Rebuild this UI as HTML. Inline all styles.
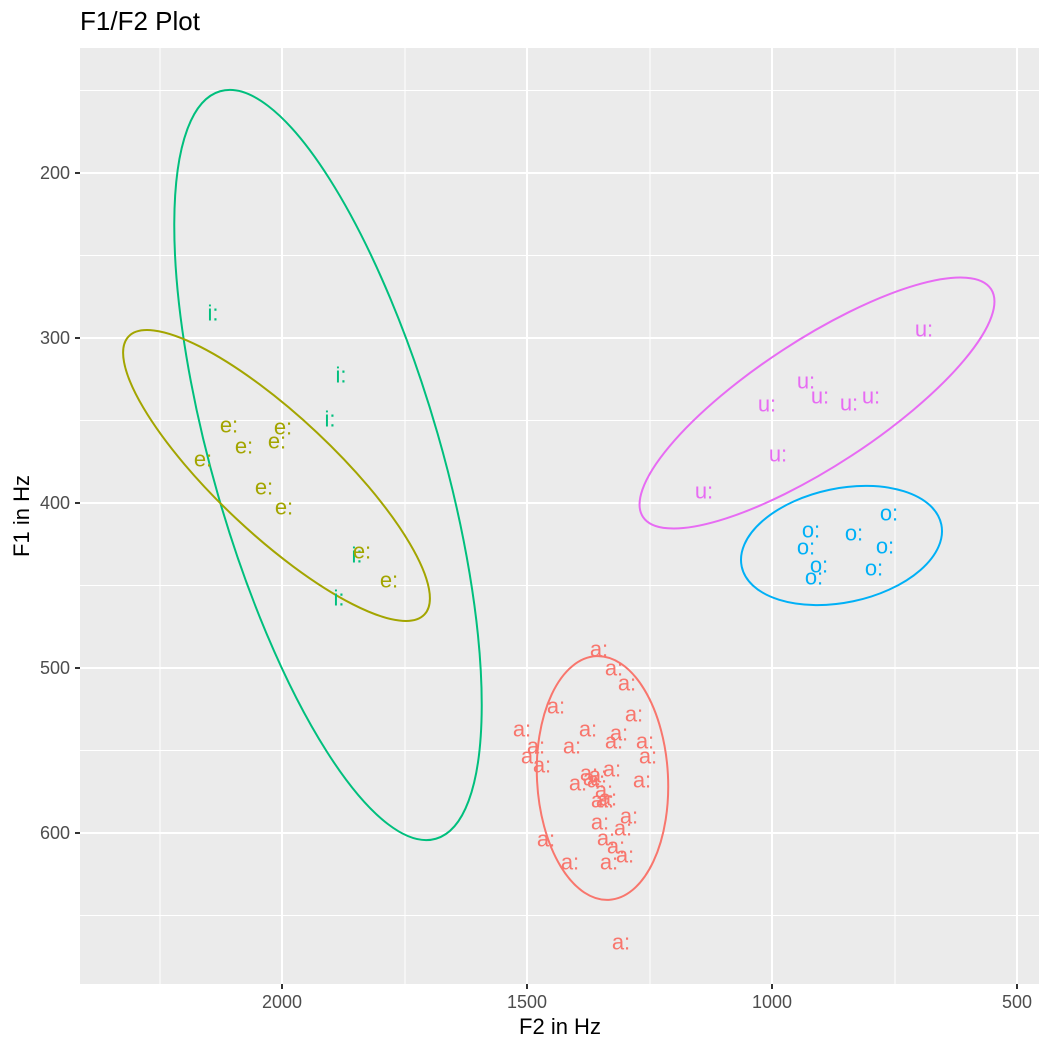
<!DOCTYPE html>
<html><head><meta charset="utf-8"><style>body{margin:0;background:#fff}svg{display:block}text{font-family:"Liberation Sans",sans-serif}</style></head><body>
<svg width="1050" height="1050" viewBox="0 0 1050 1050" xmlns="http://www.w3.org/2000/svg">
<rect x="80" y="48" width="959" height="936" fill="#EBEBEB"/>
<g stroke="#fff" stroke-width="1">
<line x1="160" y1="48" x2="160" y2="984"/><line x1="405" y1="48" x2="405" y2="984"/><line x1="650" y1="48" x2="650" y2="984"/><line x1="895" y1="48" x2="895" y2="984"/>
<line x1="80" y1="90.5" x2="1039" y2="90.5"/><line x1="80" y1="255.5" x2="1039" y2="255.5"/><line x1="80" y1="420.5" x2="1039" y2="420.5"/><line x1="80" y1="585.5" x2="1039" y2="585.5"/><line x1="80" y1="750.5" x2="1039" y2="750.5"/><line x1="80" y1="915.5" x2="1039" y2="915.5"/>
</g>
<g stroke="#fff" stroke-width="2">
<line x1="282" y1="48" x2="282" y2="984"/><line x1="527" y1="48" x2="527" y2="984"/><line x1="772" y1="48" x2="772" y2="984"/><line x1="1017" y1="48" x2="1017" y2="984"/>
<line x1="80" y1="173" x2="1039" y2="173"/><line x1="80" y1="338" x2="1039" y2="338"/><line x1="80" y1="503" x2="1039" y2="503"/><line x1="80" y1="668" x2="1039" y2="668"/><line x1="80" y1="833" x2="1039" y2="833"/>
</g>
<g stroke="#333" stroke-width="2">
<line x1="75" y1="173" x2="80" y2="173"/><line x1="75" y1="338" x2="80" y2="338"/><line x1="75" y1="503" x2="80" y2="503"/><line x1="75" y1="668" x2="80" y2="668"/><line x1="75" y1="833" x2="80" y2="833"/>
<line x1="282" y1="984" x2="282" y2="989"/><line x1="527" y1="984" x2="527" y2="989"/><line x1="772" y1="984" x2="772" y2="989"/><line x1="1017" y1="984" x2="1017" y2="989"/>
</g>
<g font-size="18" fill="#4D4D4D" text-anchor="end">
<text x="70" y="179">200</text><text x="70" y="344">300</text><text x="70" y="509">400</text><text x="70" y="674">500</text><text x="70" y="839">600</text>
</g>
<g font-size="18" fill="#4D4D4D" text-anchor="middle">
<text x="282" y="1008">2000</text><text x="527" y="1008">1500</text><text x="772" y="1008">1000</text><text x="1017" y="1008">500</text>
</g>
<text x="80" y="30" font-size="26" fill="#000">F1/F2 Plot</text>
<text x="560" y="1034" font-size="22" fill="#000" text-anchor="middle">F2 in Hz</text>
<text transform="translate(29,516) rotate(-90)" font-size="22" fill="#000" text-anchor="middle">F1 in Hz</text>
<g fill="none" stroke-width="2">
<ellipse cx="0" cy="0" rx="389" ry="114" stroke="#00BF7D" transform="translate(328,465) rotate(73.9)"/>
<ellipse cx="0" cy="0" rx="203" ry="59" stroke="#A3A500" transform="translate(276.5,475.5) rotate(43.2)"/>
<ellipse cx="0" cy="0" rx="208" ry="63" stroke="#E76BF3" transform="translate(817,403) rotate(-33.2)"/>
<ellipse cx="0" cy="0" rx="102" ry="57" stroke="#00B0F6" transform="translate(841.5,545.5) rotate(-11.9)"/>
<ellipse cx="0" cy="0" rx="65.5" ry="122" stroke="#F8766D" transform="translate(602.5,778) rotate(-3)"/>
</g>
<g font-size="22" text-anchor="middle" dominant-baseline="central">
<g fill="#00BF7D"><text x="213" y="313">i:</text><text x="341" y="375">i:</text><text x="330" y="419">i:</text><text x="357" y="555">i:</text><text x="339" y="598">i:</text></g>
<g fill="#A3A500"><text x="229" y="425">e:</text><text x="283" y="427">e:</text><text x="244" y="446">e:</text><text x="277" y="441">e:</text><text x="203" y="459">e:</text><text x="264" y="487">e:</text><text x="284" y="507">e:</text><text x="362" y="551">e:</text><text x="389" y="580">e:</text></g>
<g fill="#E76BF3"><text x="924" y="329">u:</text><text x="806" y="381">u:</text><text x="820" y="396">u:</text><text x="767" y="404">u:</text><text x="849" y="403">u:</text><text x="871" y="396">u:</text><text x="778" y="454">u:</text><text x="704" y="491">u:</text></g>
<g fill="#00B0F6"><text x="889" y="513">o:</text><text x="811" y="530">o:</text><text x="854" y="533">o:</text><text x="806" y="547">o:</text><text x="885" y="546">o:</text><text x="819" y="565">o:</text><text x="874" y="568">o:</text><text x="814" y="577">o:</text></g>
<g fill="#F8766D"><text x="599" y="649">a:</text><text x="614" y="668">a:</text><text x="627" y="683">a:</text><text x="556" y="706">a:</text><text x="522" y="729">a:</text><text x="634" y="714">a:</text><text x="588" y="729">a:</text><text x="619" y="733">a:</text><text x="614" y="741">a:</text><text x="536" y="746">a:</text><text x="572" y="746">a:</text><text x="530" y="756">a:</text><text x="645" y="741">a:</text><text x="542" y="765">a:</text><text x="648" y="756">a:</text><text x="612" y="769">a:</text><text x="589" y="773">a:</text><text x="598" y="775">a:</text><text x="578" y="783">a:</text><text x="642" y="780">a:</text><text x="596" y="780">a:</text><text x="604" y="790">a:</text><text x="608" y="798">a:</text><text x="600" y="800">a:</text><text x="629" y="816">a:</text><text x="600" y="822">a:</text><text x="623" y="828">a:</text><text x="546" y="839">a:</text><text x="606" y="838">a:</text><text x="616" y="846">a:</text><text x="625" y="855">a:</text><text x="570" y="862">a:</text><text x="609" y="862">a:</text><text x="621" y="942">a:</text><text x="592" y="778">a:</text><text x="605" y="800">a:</text></g>
</g>
</svg>
</body></html>
